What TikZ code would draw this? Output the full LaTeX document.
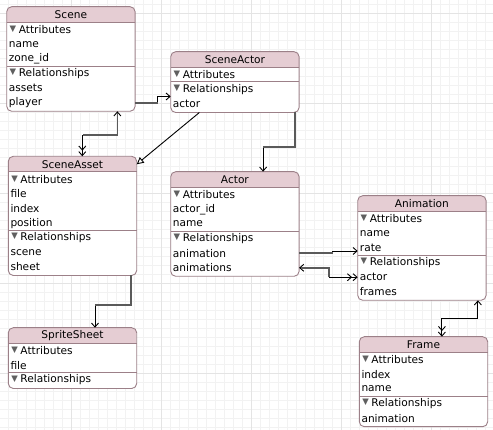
\documentclass[tikz,border=0pt]{standalone}
\usepackage{fontspec}
\setmainfont{DejaVu Sans}
\usetikzlibrary{arrows.meta,calc}
\definecolor{headfill}{HTML}{E5CDD3}
\definecolor{bordercol}{HTML}{9C8088}
\definecolor{gridminor}{HTML}{F2F2F2}
\definecolor{gridmajor}{HTML}{E4E4E4}
\definecolor{trigray}{HTML}{606060}
\definecolor{thickgray}{HTML}{5A5A5A}
\newcommand\sectri{\hspace*{0.8pt}\raisebox{1.8pt}{\fontsize{8.5}{8.5}\selectfont\color{trigray}▼}\hspace{2.6pt}}
% id, x, ytop, height, title
\newcommand\entbox[5]{%
  \node[entity, minimum height=#4pt] (#1) at (#2,#3) {};
  \begin{scope}
    \clip[rounded corners=5pt] (#1.north west) rectangle (#1.south east);
    \fill[headfill] (#1.north west) rectangle ($(#1.north east)+(0,15.6)$);
  \end{scope}
  \node[titletext] (#1-h) at (#1.north west) {#5};
  \draw[sepline] ($(#1.north west)+(0,15.6)$) -- ($(#1.north east)+(0,15.6)$);
  \draw[sepline, rounded corners=5pt] (#1.north west) rectangle (#1.south east);
}
% id, rowname, index, text
\newcommand\erow[4]{\node[rowtext] (#1-#2) at ($(#1.north west)+(0,{15.6+#3*14.6})$) {#4};}
\newcommand\esep[1]{\draw[sepline] (#1-rel.north west) -- (#1-rel.north east);}
\begin{document}
\begin{tikzpicture}[x=1pt,y=-1pt,
  font=\fontsize{10.6}{12}\selectfont,
  entity/.style={shape=rectangle, anchor=north west, minimum width=128pt, inner sep=0pt, fill=white, rounded corners=5pt},
  titletext/.style={anchor=north west, minimum width=128pt, minimum height=15.6pt, inner sep=0pt, align=center},
  rowtext/.style={anchor=north west, text width=124pt, inner xsep=2pt, inner ysep=0pt, minimum height=14.6pt, align=left},
  sepline/.style={draw=bordercol, line width=0.9pt},
  thinrel/.style={draw=black, line width=0.9pt},
  thickrel/.style={draw=thickgray, line width=1.8pt},
  toone/.tip={Straight Barb[length=4pt, width=7pt, line width=0.9pt, color=black]},
  tomany/.tip={Straight Barb[length=4pt, width=7pt, line width=0.9pt, color=black, sep=0.5pt] Straight Barb[length=4pt, width=7pt, line width=0.9pt, color=black]}
]
\useasboundingbox (0,0) rectangle (493,430);
\fill[white] (0,0) rectangle (493,430);
\foreach \i in {0,...,53} \draw[gridminor, line width=1pt] ({8.7+9*\i},0) -- ++(0,430);
\foreach \j in {0,...,47} \draw[gridminor, line width=1pt] (0,{4.3+9*\j}) -- ++(493,0);
\foreach \i in {0,...,4} \draw[gridmajor, line width=1pt] ({71.7+90*\i},0) -- ++(0,430);
\foreach \j in {0,...,4} \draw[gridmajor, line width=1pt] (0,{13.3+90*\j}) -- ++(493,0);

% Scene
\entbox{scene}{6.7}{6.7}{104.2}{Scene}
\erow{scene}{att}{0}{\sectri Attributes}
\erow{scene}{name}{1}{name}
\erow{scene}{zone}{2}{zone\_id}
\erow{scene}{rel}{3}{\sectri Relationships}
\erow{scene}{assets}{4}{assets}
\erow{scene}{player}{5}{player}
\esep{scene}

% SceneActor
\entbox{sactor}{170.7}{51.7}{60.4}{SceneActor}
\erow{sactor}{att}{0}{\sectri Attributes}
\erow{sactor}{rel}{1}{\sectri Relationships}
\erow{sactor}{actor}{2}{actor}
\esep{sactor}

% SceneAsset
\entbox{sasset}{8.3}{156.3}{118.8}{SceneAsset}
\erow{sasset}{att}{0}{\sectri Attributes}
\erow{sasset}{file}{1}{file}
\erow{sasset}{index}{2}{index}
\erow{sasset}{position}{3}{position}
\erow{sasset}{rel}{4}{\sectri Relationships}
\erow{sasset}{scene}{5}{scene}
\erow{sasset}{sheet}{6}{sheet}
\esep{sasset}

% Actor
\entbox{actor}{170.7}{171.7}{104.2}{Actor}
\erow{actor}{att}{0}{\sectri Attributes}
\erow{actor}{actorid}{1}{actor\_id}
\erow{actor}{name}{2}{name}
\erow{actor}{rel}{3}{\sectri Relationships}
\erow{actor}{animation}{4}{animation}
\erow{actor}{animations}{5}{animations}
\esep{actor}

% Animation
\entbox{anim}{357.7}{195.7}{104.2}{Animation}
\erow{anim}{att}{0}{\sectri Attributes}
\erow{anim}{name}{1}{name}
\erow{anim}{rate}{2}{rate}
\erow{anim}{rel}{3}{\sectri Relationships}
\erow{anim}{actor}{4}{actor}
\erow{anim}{frames}{5}{frames}
\esep{anim}

% Frame
\entbox{frame}{359.3}{336.7}{89.6}{Frame}
\erow{frame}{att}{0}{\sectri Attributes}
\erow{frame}{index}{1}{index}
\erow{frame}{name}{2}{name}
\erow{frame}{rel}{3}{\sectri Relationships}
\erow{frame}{animation}{4}{animation}
\esep{frame}

% SpriteSheet
\entbox{sprite}{8.3}{327.7}{60.4}{SpriteSheet}
\erow{sprite}{att}{0}{\sectri Attributes}
\erow{sprite}{file}{1}{file}
\erow{sprite}{rel}{2}{\sectri Relationships}
\esep{sprite}

% Connectors
% Scene.player -> SceneActor
\draw[thinrel, -toone] (scene-player.east) -- ++(22.4,0) |- (sactor-actor.north west);
\draw[thickrel] (scene-player.east) -- ++(22.4,0);
% SceneActor inherits SceneAsset
\draw[thinrel, -{Triangle[open, fill=white, length=7pt, width=7pt, line width=0.9pt]}] ([xshift=-35.5pt]sactor.south) -- (sasset-h.east);
% SceneActor.actor -> Actor
\draw[thinrel, -toone] ([xshift=59.8pt]sactor.south) -- ++(0,34.2) -| ([xshift=28.2pt]actor.north);
\draw[thickrel] ([xshift=59.8pt]sactor.south) -- ++(0,34.2) -- ++(-31.6,0);
% Scene <-> SceneAsset
\draw[thinrel, toone-tomany] ([xshift=46.5pt]scene.south) -- ++(0,24) -| ([xshift=9.8pt]sasset.north);
\draw[thickrel, shorten <=1.5pt] ([xshift=46.5pt]scene.south) -- ++(0,24) -- ++(-34.7,0);
% SceneAsset.sheet -> SpriteSheet
\draw[thinrel, -toone] ([xshift=58.2pt]sasset.south) -- ++(0,29.5) -| ([xshift=22.5pt]sprite.north);
\draw[thickrel] ([xshift=58.2pt]sasset.south) -- ++(0,29.5) -- ++(-35.7,0);
% Actor.animation -> Animation
\draw[thinrel, -toone] (actor-animation.east) -- ++(33.4,0) |- ([yshift=-3pt]anim-rate.west);
\draw[thickrel] (actor-animation.east) -- ++(33.4,0);
% Actor.animations <-> Animation.actor
\draw[thinrel, toone-tomany] (actor-animations.east) -- ++(30,0) |- (anim-actor.west);
\draw[thickrel, shorten <=1.5pt] (actor-animations.east) -- ++(30,0) -- ++(0,9.4);
% Animation <-> Frame
\draw[thinrel, toone-tomany] ([xshift=56pt]anim.south) -- ++(0,18.3) -| ([xshift=18.4pt]frame.north);
\end{tikzpicture}
\end{document}
